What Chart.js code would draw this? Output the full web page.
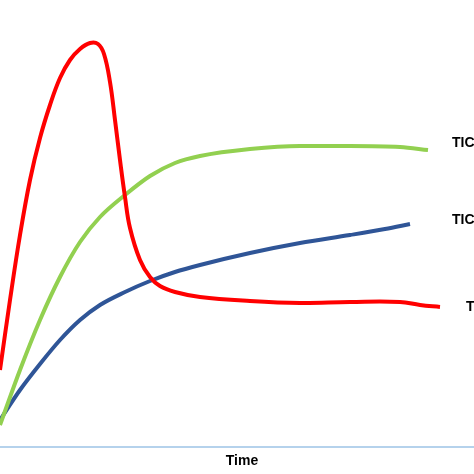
<!DOCTYPE html>
<html><head><script src="https://cdn.jsdelivr.net/npm/chart.js"></script>
<style>html,body{margin:0;padding:0;background:#fff}#w{width:474px;height:474px}</style></head>
<body><div id="w"><canvas id="c"></canvas></div>
<script>
const redSeries=[[0,370],[10,300],[20,235],[30,180],[40,138],[50,105],[60,78],[70,60],[80,49],[90,43],[98,44],[104,54],[110,82],[115,120],[120,160],[125,197],[130,228],[140,260],[150,277],[160,286],[175,292],[200,297],[250,301],[300,303],[350,302],[400,302],[420,305],[440,307]];
const greenSeries=[[0,425],[20,370],[40,320],[60,277],[80,242],[100,217],[125,195],[150,176],[175,163],[200,156],[250,149],[300,146],[350,146],[400,147],[428,150]];
const blueSeries=[[0,420],[20,390],[40,364],[60,340],[80,320],[100,305],[125,292],[150,281],[175,272],[200,265],[250,253],[300,243],[350,235],[385,229],[410,224]];
const seriesLabels=[["TIC",452,143],["TIC",452,220],["T",466,307]];
const axisTitle="Time";
const AX=447;
const toPts=a=>a.map(p=>({x:p[0],y:AX-p[1]}));
const ds=(d,c,m)=>({data:toPts(d),borderColor:c,borderWidth:4,pointRadius:0,tension:0.4,fill:false,clip:false,cubicInterpolationMode:m});
const deco={id:'deco',afterDraw(ch){const c=ch.ctx,x=ch.scales.x,y=ch.scales.y;c.save();
c.strokeStyle='#9dc3e6';c.lineWidth=1.5;c.beginPath();c.moveTo(0,y.getPixelForValue(0));c.lineTo(474,y.getPixelForValue(0));c.stroke();
c.fillStyle='#000';c.font='bold 14px "Liberation Sans", Arial';c.textBaseline='middle';
seriesLabels.forEach(l=>c.fillText(l[0],x.getPixelForValue(l[1]),y.getPixelForValue(AX-l[2])));
c.textAlign='center';c.fillText(axisTitle,x.getPixelForValue(242),y.getPixelForValue(AX-461));c.restore();}};
new Chart(document.getElementById('c'),{type:'line',data:{datasets:[ds(redSeries,'#ff0000','default'),ds(greenSeries,'#92d050','monotone'),ds(blueSeries,'#2f5597','monotone')]},
options:{responsive:true,maintainAspectRatio:false,animation:false,layout:{padding:{left:0,right:0,top:0,bottom:27}},
plugins:{legend:{display:false},tooltip:{enabled:false}},
scales:{x:{type:'linear',min:0,max:474,display:false},y:{min:0,max:AX,display:false}}},plugins:[deco]});
</script></body></html>
